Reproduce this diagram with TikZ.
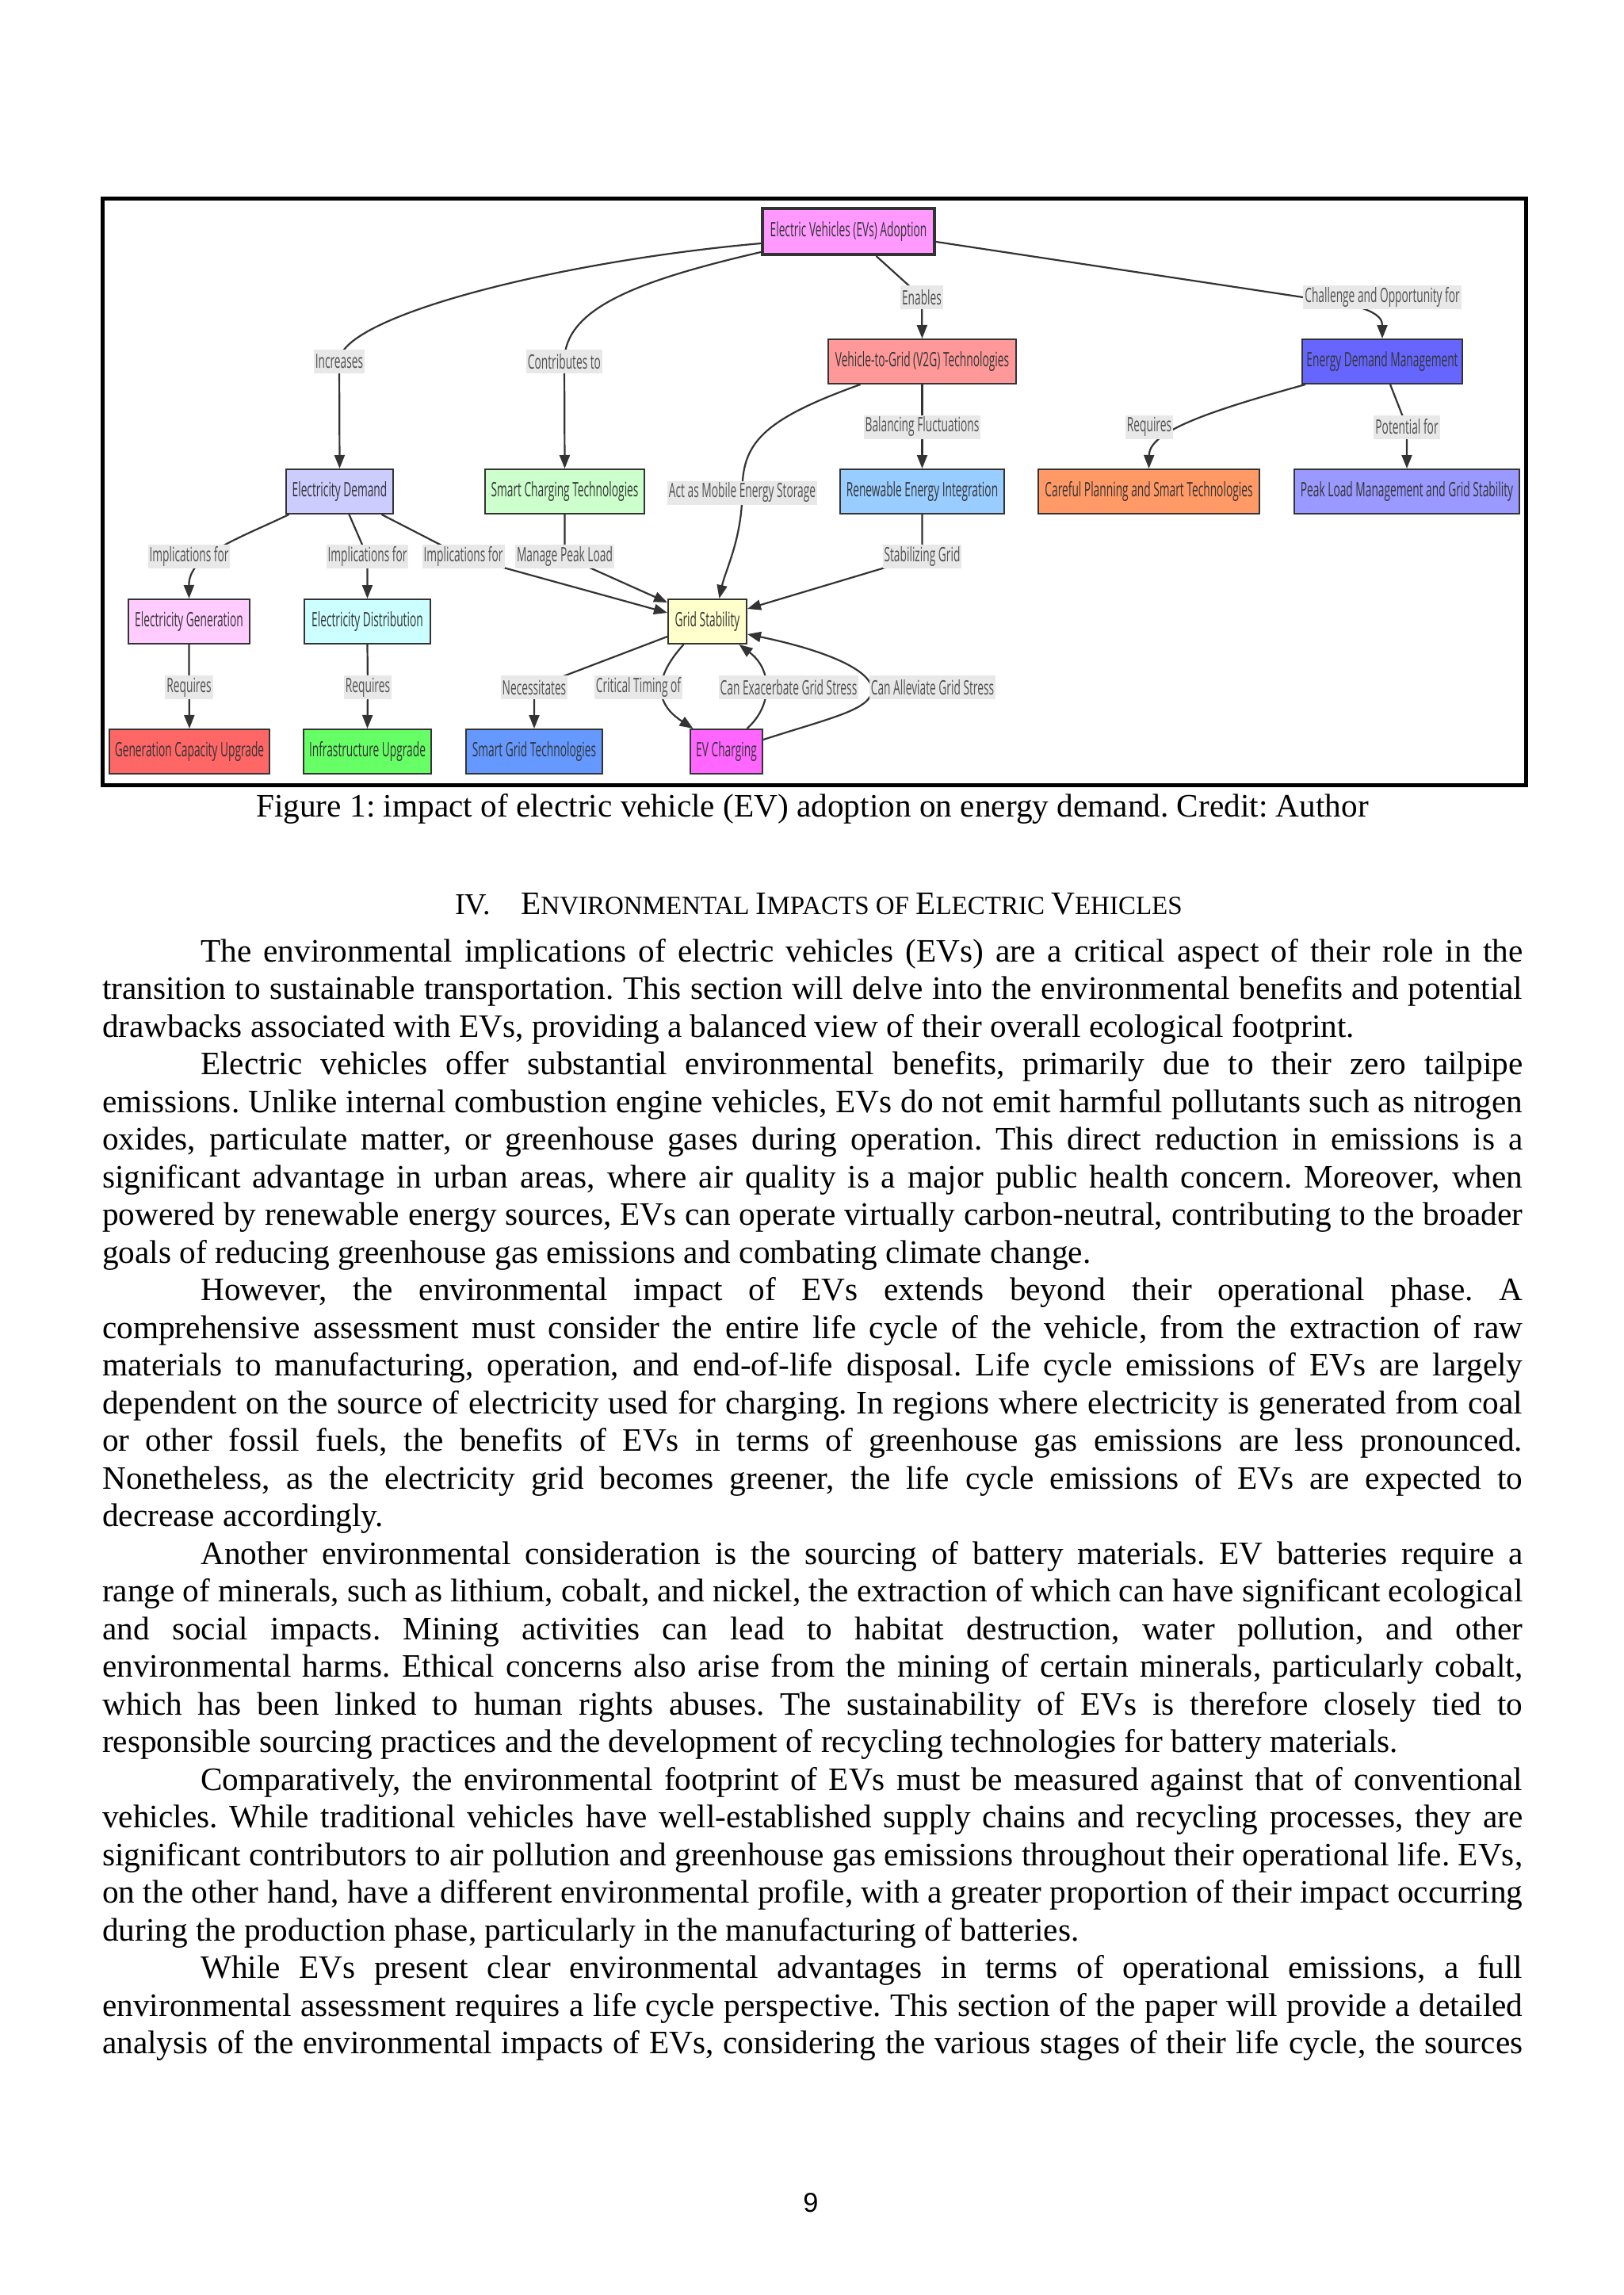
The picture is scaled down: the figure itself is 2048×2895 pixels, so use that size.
\documentclass[tikz,border=0pt]{standalone}
\usepackage{fontspec}
\setmainfont{Liberation Serif}
\newfontfamily\dfont[FakeStretch=0.55]{Open Sans}
\newfontfamily\pnfont{Liberation Sans}
\usetikzlibrary{arrows.meta}
\pgfdeclarelayer{bg}
\pgfsetlayers{bg,main}
\definecolor{c333}{HTML}{333333}
\definecolor{c555}{HTML}{505050}
\definecolor{lblbg}{HTML}{E8E8E8}
\definecolor{cEV}{HTML}{FF99FF}
\definecolor{cVTG}{HTML}{FF9999}
\definecolor{cEDM}{HTML}{6666FF}
\definecolor{cED}{HTML}{CCCCFF}
\definecolor{cSC}{HTML}{CCFFCC}
\definecolor{cREI}{HTML}{99CCFF}
\definecolor{cCP}{HTML}{FF9966}
\definecolor{cPLM}{HTML}{9999FF}
\definecolor{cEG}{HTML}{FFCCFF}
\definecolor{cEDI}{HTML}{CCFFFF}
\definecolor{cGS}{HTML}{FFFFCC}
\definecolor{cGCU}{HTML}{FF6666}
\definecolor{cIU}{HTML}{66FF66}
\definecolor{cSGT}{HTML}{6699FF}
\definecolor{cEVC}{HTML}{FF66FF}
\newcommand\jl[1]{\hbox to \hsize{#1}}
\newcommand\lastl[1]{\hbox{#1}}
\newcommand\ind{\hspace*{124pt}}
\newcommand\scw[2]{{\fontsize{41.28}{41.28}\selectfont #1}#2}
\frenchspacing
\begin{document}
\begin{tikzpicture}[x=1pt,y=-1pt,
  box/.style={draw=c333, line width=2pt, font={\fontsize{25}{27}\dfont}, text=c333, inner sep=0pt, minimum height=56pt, align=center},
  lbl/.style={fill=lblbg, font={\fontsize{25}{27}\dfont}, text=c555, inner sep=2pt, minimum height=30pt},
  edge/.style={draw=c333, line width=2.2pt, -{Triangle[length=17pt,width=13pt]}}]
\useasboundingbox (0,0) rectangle (2048,2895);
\begin{pgfonlayer}{bg}
\fill[white] (0,0) rectangle (2048,2895);
\end{pgfonlayer}
% frame
\draw[line width=5pt] (129,250.5) rectangle (1925,990.5);
% boxes
\node[box, line width=4pt, fill=cEV, minimum width=217pt, minimum height=58pt] (ev) at (1070.5,292) {Electric Vehicles (EVs) Adoption};
\node[box, fill=cVTG, minimum width=237pt] (v2g) at (1163.5,456) {Vehicle-to-Grid (V2G) Technologies};
\node[box, fill=cEDM, minimum width=202pt] (edm) at (1744,456) {Energy Demand Management};
\node[box, fill=cED, minimum width=135pt] (ed) at (428.5,620) {Electricity Demand};
\node[box, fill=cSC, minimum width=201pt] (sc) at (712.5,620) {Smart Charging Technologies};
\node[box, fill=cREI, minimum width=207pt] (rei) at (1163.5,620) {Renewable Energy Integration};
\node[box, fill=cCP, minimum width=279pt] (cp) at (1449.5,620) {Careful Planning and Smart Technologies};
\node[box, fill=cPLM, minimum width=284pt] (plm) at (1775,620) {Peak Load Management and Grid Stability};
\node[box, fill=cEG, minimum width=153pt] (eg) at (238.5,784) {Electricity Generation};
\node[box, fill=cEDI, minimum width=159pt] (edi) at (463.5,784) {Electricity Distribution};
\node[box, fill=cGS, minimum width=99pt] (gs) at (892.5,784) {Grid Stability};
\node[box, fill=cGCU, minimum width=202pt] (gcu) at (239,948) {Generation Capacity Upgrade};
\node[box, fill=cIU, minimum width=161pt] (iu) at (463.5,948) {Infrastructure Upgrade};
\node[box, fill=cSGT, minimum width=172pt] (sgt) at (674,948) {Smart Grid Technologies};
\node[box, fill=cEVC, minimum width=91pt] (evc) at (916.5,948) {EV Charging};
% labels
\node[lbl] (l1) at (428,456) {Increases};
\node[lbl] (l2) at (712,456) {Contributes to};
\node[lbl] (l3) at (1163,375) {Enables};
\node[lbl] (l4) at (1744,375) {Challenge and Opportunity for};
\node[lbl] (l5) at (936.5,621.5) {Act as Mobile Energy Storage};
\node[lbl] (l6) at (1163.5,538.5) {Balancing Fluctuations};
\node[lbl] (l7) at (1450,538.5) {Requires};
\node[lbl] (l8) at (1775,538.5) {Potential for};
\node[lbl] (l9) at (238.5,702) {Implications for};
\node[lbl] (l10) at (463.5,702) {Implications for};
\node[lbl] (l11) at (584.5,702) {Implications for};
\node[lbl] (l12) at (712.5,702) {Manage Peak Load};
\node[lbl] (l13) at (1163.5,702) {Stabilizing Grid};
\node[lbl] (l18) at (238.5,867) {Requires};
\node[lbl] (l19) at (464,867) {Requires};
\node[lbl] (l14) at (674,867) {Necessitates};
\node[lbl] (l15) at (805.5,867) {Critical Timing of};
\node[lbl] (l16) at (995,867) {Can Exacerbate Grid Stress};
\node[lbl] (l17) at (1176.5,867) {Can Alleviate Grid Stress};
% edges
\begin{pgfonlayer}{bg}
\draw[edge] ([yshift=-15pt]ev.west) .. controls (700,330) and (428,400) .. (l1.center) -- (ed.north);
\draw[edge] ([yshift=-26pt]ev.west) .. controls (800,355) and (712,390) .. (l2.center) -- (sc.north);
\draw[edge] ([xshift=35pt]ev.south) -- (l3.center) -- (v2g.north);
\draw[edge] ([yshift=-13pt]ev.east) -- (l4.west) .. controls (1735,385) and (1744,400) .. (edm.north);
\draw[edge] ([xshift=-78pt]v2g.south) .. controls (960,530) and (936,560) .. (l5.center) .. controls (936,680) and (915,720) .. ([xshift=15pt]gs.north);
\draw[edge] (v2g.south) -- (l6.center) -- (rei.north);
\draw[edge] ([xshift=-97pt]edm.south) .. controls (1520,520) and (1450,545) .. (cp.north);
\draw[edge] ([xshift=10pt]edm.south) -- (l8.center) -- (plm.north);
\draw[edge] ([xshift=-64pt]ed.south) .. controls (300,680) and (238,700) .. (eg.north);
\draw[edge] ([xshift=12pt]ed.south) -- (l10.center) -- (edi.north);
\draw[edge] ([xshift=53pt]ed.south) -- (l11.center) -- ([yshift=11pt]gs.west);
\draw[edge] (sc.south) -- (l12.center) -- ([yshift=24pt]gs.west);
\draw[edge] (rei.south) -- (l13.center) -- ([yshift=16pt]gs.east);
\draw[edge] (eg.south) -- (l18.center) -- (gcu.north);
\draw[edge] (edi.south) -- (l19.center) -- (iu.north);
\draw[edge] ([yshift=-19pt]gs.west) -- (l14.center) -- (sgt.north);
\draw[edge] ([xshift=-30pt]gs.south) .. controls (820,860) and (830,890) .. ([xshift=-42pt]evc.north);
\draw[edge] ([xshift=26pt]evc.north) .. controls (975,890) and (975,845) .. ([xshift=40pt]gs.south);
\draw[edge] ([yshift=15pt]evc.east) .. controls (1050,905) and (1100,895) .. (1100,870) .. controls (1100,845) and (1040,820) .. ([yshift=-16pt]gs.east);
\end{pgfonlayer}
% caption
\node[anchor=base, inner sep=0pt, font={\fontsize{41.28}{47.5}\selectfont}] (cap) at (1025,1030) {Figure 1: impact of electric vehicle (EV) adoption on energy demand. Credit: Author};
% heading
\node[anchor=base west, inner sep=0pt, font={\fontsize{38}{38}\selectfont}] (secnum) at (574,1153) {IV.};
\node[anchor=base west, inner sep=0pt, font={\fontsize{33}{33}\selectfont}] (sectitle) at (657,1153) {\scw{E}{NVIRONMENTAL} \scw{I}{MPACTS} OF \scw{E}{LECTRIC} \scw{V}{EHICLES}};
% body
\node[anchor=base west, inner sep=0pt] (body) at (129,1213) {\parbox[t]{1792pt}{\fontsize{41.28}{47.5}\selectfont\frenchspacing
\jl{\ind The environmental implications of electric vehicles (EVs) are a critical aspect of their role in the}
\jl{transition to sustainable transportation. This section will delve into the environmental benefits and potential}
\lastl{drawbacks associated with EVs, providing a balanced view of their overall ecological footprint.}
\jl{\ind Electric vehicles offer substantial environmental benefits, primarily due to their zero tailpipe}
\jl{emissions. Unlike internal combustion engine vehicles, EVs do not emit harmful pollutants such as nitrogen}
\jl{oxides, particulate matter, or greenhouse gases during operation. This direct reduction in emissions is a}
\jl{significant advantage in urban areas, where air quality is a major public health concern. Moreover, when}
\jl{powered by renewable energy sources, EVs can operate virtually carbon-neutral, contributing to the broader}
\lastl{goals of reducing greenhouse gas emissions and combating climate change.}
\jl{\ind However, the environmental impact of EVs extends beyond their operational phase. A}
\jl{comprehensive assessment must consider the entire life cycle of the vehicle, from the extraction of raw}
\jl{materials to manufacturing, operation, and end-of-life disposal. Life cycle emissions of EVs are largely}
\jl{dependent on the source of electricity used for charging. In regions where electricity is generated from coal}
\jl{or other fossil fuels, the benefits of EVs in terms of greenhouse gas emissions are less pronounced.}
\jl{Nonetheless, as the electricity grid becomes greener, the life cycle emissions of EVs are expected to}
\lastl{decrease accordingly.}
\jl{\ind Another environmental consideration is the sourcing of battery materials. EV batteries require a}
\jl{range of minerals, such as lithium, cobalt, and nickel, the extraction of which can have significant ecological}
\jl{and social impacts. Mining activities can lead to habitat destruction, water pollution, and other}
\jl{environmental harms. Ethical concerns also arise from the mining of certain minerals, particularly cobalt,}
\jl{which has been linked to human rights abuses. The sustainability of EVs is therefore closely tied to}
\lastl{responsible sourcing practices and the development of recycling technologies for battery materials.}
\jl{\ind Comparatively, the environmental footprint of EVs must be measured against that of conventional}
\jl{vehicles. While traditional vehicles have well-established supply chains and recycling processes, they are}
\jl{significant contributors to air pollution and greenhouse gas emissions throughout their operational life. EVs,}
\jl{on the other hand, have a different environmental profile, with a greater proportion of their impact occurring}
\lastl{during the production phase, particularly in the manufacturing of batteries.}
\jl{\ind While EVs present clear environmental advantages in terms of operational emissions, a full}
\jl{environmental assessment requires a life cycle perspective. This section of the paper will provide a detailed}
\jl{analysis of the environmental impacts of EVs, considering the various stages of their life cycle, the sources}
}};
% page number
\node[anchor=base, inner sep=0pt, font={\fontsize{34.4}{34.4}\pnfont}] (pagenum) at (1023,2790) {9};
\end{tikzpicture}
\end{document}
